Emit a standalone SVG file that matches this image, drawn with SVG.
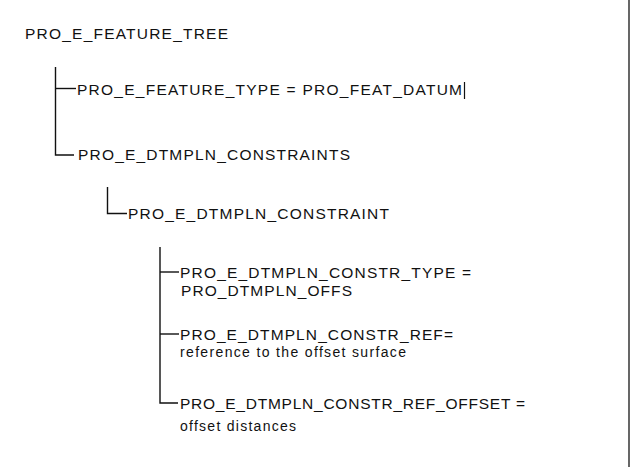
<svg xmlns="http://www.w3.org/2000/svg" width="630" height="467" viewBox="0 0 630 467">
<style>
.t{font-family:"Liberation Sans",Arial,sans-serif;font-size:15.5px;fill:#111}
.s{font-family:"Liberation Sans",Arial,sans-serif;font-size:14px;fill:#111}
.c{stroke:#111;stroke-width:1.4;fill:none}
</style>
<rect x="0" y="0" width="630" height="467" fill="#fff"/>
<line x1="629" y1="0" x2="629" y2="467" stroke="#000" stroke-width="1.2"/>
<g id="connectors">
<path class="c" d="M55.5,67 V155 H74"/>
<path class="c" d="M55.5,88.5 H76"/>
<path class="c" d="M107.5,187 V213.5 H127"/>
<path class="c" d="M160,247 V403 H178"/>
<path class="c" d="M160,272 H179"/>
<path class="c" d="M160,334 H179"/>
</g>
<g id="n-tree"><text class="t" x="25" y="38.5" textLength="203" lengthAdjust="spacing">PRO_E_FEATURE_TREE</text></g>
<g id="n-type"><text class="t" x="77" y="95" textLength="385" lengthAdjust="spacing">PRO_E_FEATURE_TYPE = PRO_FEAT_DATUM</text>
<line x1="464.5" y1="82" x2="464.5" y2="99" stroke="#111" stroke-width="1.2"/></g>
<g id="n-constraints"><text class="t" x="78" y="160" textLength="272" lengthAdjust="spacing">PRO_E_DTMPLN_CONSTRAINTS</text></g>
<g id="n-constraint"><text class="t" x="128" y="219" textLength="261" lengthAdjust="spacing">PRO_E_DTMPLN_CONSTRAINT</text></g>
<g id="n-constr-type"><text class="t" x="180" y="277.5" textLength="291" lengthAdjust="spacing">PRO_E_DTMPLN_CONSTR_TYPE =</text>
<text class="t" x="181" y="296" textLength="171" lengthAdjust="spacing">PRO_DTMPLN_OFFS</text></g>
<g id="n-constr-ref"><text class="t" x="180" y="339.5" textLength="273" lengthAdjust="spacing">PRO_E_DTMPLN_CONSTR_REF=</text>
<text class="s" x="180" y="356.5" textLength="226" lengthAdjust="spacing">reference to the offset surface</text></g>
<g id="n-constr-ref-offset"><text class="t" x="180" y="409" textLength="345" lengthAdjust="spacing">PRO_E_DTMPLN_CONSTR_REF_OFFSET =</text>
<text class="s" x="180" y="430.5" textLength="116" lengthAdjust="spacing">offset distances</text></g>
</svg>
